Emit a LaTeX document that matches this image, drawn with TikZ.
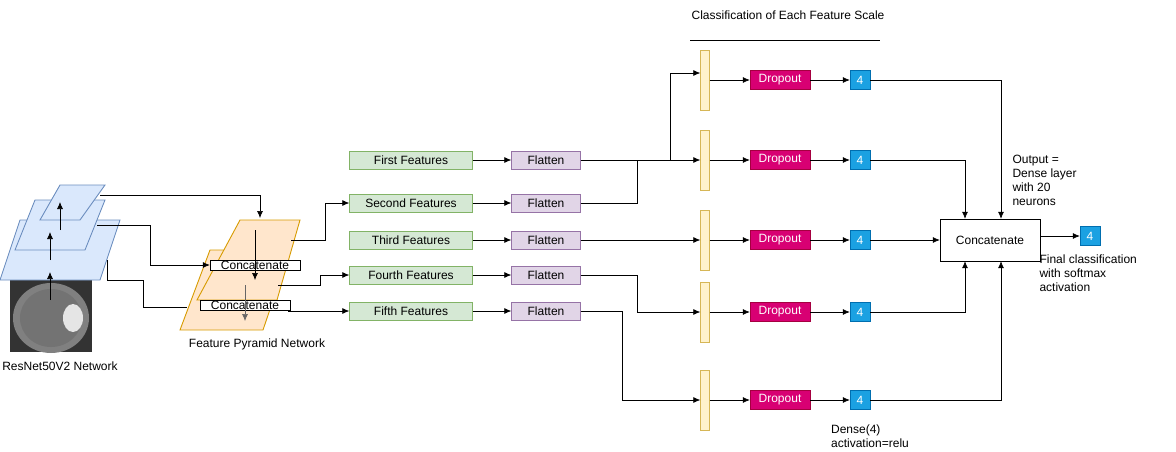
\documentclass[tikz,border=0pt]{standalone}
\usepackage{fontspec}
\setmainfont{Liberation Sans}
\usetikzlibrary{arrows.meta,positioning}
\definecolor{feat}{HTML}{D5E8D4}
\definecolor{featline}{HTML}{82B366}
\definecolor{flat}{HTML}{E1D5E7}
\definecolor{flatline}{HTML}{9673A6}
\definecolor{bar}{HTML}{FFF2CC}
\definecolor{barline}{HTML}{D6B656}
\definecolor{drop}{HTML}{D80073}
\definecolor{dropline}{HTML}{A50040}
\definecolor{dense}{HTML}{1BA1E2}
\definecolor{denseline}{HTML}{006EAF}
\definecolor{resfill}{HTML}{DAE8FC}
\definecolor{resline}{HTML}{6C8EBF}
\definecolor{fpnfill}{HTML}{FFE6CC}
\definecolor{fpnline}{HTML}{D79B00}
\begin{document}
\begin{tikzpicture}[x=1pt,y=-1pt,font=\fontsize{12}{14}\selectfont,
    arr/.style={-{Latex[length=7pt,width=6pt]}, line width=0.7pt},
    featbox/.style={draw=featline, fill=feat, minimum width=123pt, minimum height=18pt},
    flatbox/.style={draw=flatline, fill=flat, minimum width=69pt, minimum height=18pt},
    barbox/.style={draw=barline, fill=bar, minimum width=9pt, minimum height=60pt, inner sep=0pt},
    dropbox/.style={draw=dropline, fill=drop, text=white, minimum width=60pt, minimum height=19pt},
    densebox/.style={draw=denseline, fill=dense, text=white, minimum width=20pt, minimum height=19pt, inner sep=0pt},
    catbox/.style={draw, fill=white, inner sep=0pt, minimum height=10pt}]
    \useasboundingbox (0,0) rectangle (1176,451);

    % ResNet50V2 backbone
    \fill[black!80] (10,280) rectangle (92,352);
    \fill[gray] (51,318) ellipse (38pt and 35pt);
    \fill[black!55] (51,318) ellipse (31pt and 29pt);
    \fill[gray!20] (73,318) ellipse (10pt and 14pt);
    \draw[resline, fill=resfill, line width=0.9pt] (0,280) -- (100,280) -- (120,220) -- (20,220) -- cycle;
    \draw[resline, fill=resfill, line width=0.9pt] (15,250) -- (85,250) -- (105,200) -- (35,200) -- cycle;
    \draw[resline, fill=resfill, line width=0.9pt] (40,220) -- (80,220) -- (105,185) -- (60,185) -- cycle;
    \coordinate (r1) at (50,300); \coordinate (r1e) at (50,272);
    \coordinate (r2) at (50,260); \coordinate (r2e) at (50,232);
    \coordinate (r3) at (60,230); \coordinate (r3e) at (60,202);
    \draw[arr] (r1) -- (r1e);
    \draw[arr] (r2) -- (r2e);
    \draw[arr] (r3) -- (r3e);
    \node (resnet) at (60,366) {ResNet50V2 Network};

    % Feature pyramid
    \draw[fpnline, fill=fpnfill, line width=0.9pt] (180,330) -- (263,330) -- (290,250) -- (210,250) -- cycle;
    \draw[fpnline, fill=fpnfill, line width=0.9pt] (197,300) -- (277,300) -- (300,220) -- (240,220) -- cycle;
    \node (fpn) at (257,344) {Feature Pyramid Network};
    \node[catbox, minimum width=90pt] (cat1) at (255,265) {Concatenate};
    \node[catbox, minimum width=90pt] (cat2) at (245,305) {Concatenate};
    \coordinate (p1) at (255,230); \coordinate (p1e) at (255,280);
    \coordinate (p2) at (245,285); \coordinate (p2e) at (245,321);
    \draw[arr] (p1) -- (p1e);
    \draw[arr, black!60] (p2) -- (p2e);
    \coordinate (s3) at (100,195); \coordinate (top) at (260,218);
    \draw[arr] (s3) -| (top);
    \coordinate (s2) at (97,225); \coordinate (k2) at (150,225);
    \draw[arr] (s2) -- (k2) |- (cat1.west);
    \coordinate (s1) at (107,260); \coordinate (k1) at (143,307); \coordinate (k1e) at (187,307);
    \draw[line width=0.7pt] (s1) |- (107,280) -| (k1) -- (k1e);

    % Feature branches
    \node[featbox] (f1) at (411,160) {First Features};
    \node[featbox] (f2) at (411,203) {Second Features};
    \node[featbox] (f3) at (411,240) {Third Features};
    \node[featbox] (f4) at (411,275) {Fourth Features};
    \node[featbox] (f5) at (411,311) {Fifth Features};
    \coordinate (o2) at (291,240); \coordinate (o4) at (278,285); \coordinate (o5) at (288,311);
    \draw[arr] (o2) -- (325,240) |- (f2.west);
    \draw[arr] (o4) -- (320,285) |- (f4.west);
    \draw[arr] (o5) -- (f5.west);

    \foreach \i/\y in {1/160,2/203,3/240,4/275,5/311} {
        \node[flatbox] (fl\i) at (546,\y) {Flatten};
        \draw[arr] (f\i) -- (fl\i);
    }

    % Classification heads
    \node (head) at (788,15) {Classification of Each Feature Scale};
    \coordinate (hl) at (690,40); \coordinate (hr) at (880,40);
    \draw (hl) -- (hr);
    \foreach \i/\y in {1/80,2/160,3/240,4/312,5/400} {
        \node[barbox] (b\i) at (705,\y) {};
        \node[dropbox] (d\i) at (780,\y) {Dropout};
        \node[densebox] (n\i) at (860,\y) {4};
        \draw[arr] (b\i) -- (d\i);
        \draw[arr] (d\i) -- (n\i);
    }
    \draw[arr] (fl1.east) -- (670,160) |- ([yshift=7pt]b1.west);
    \draw[arr] (fl2.east) -- (637,203) |- (b2.west);
    \draw[arr] (fl3.east) -- (b3.west);
    \draw[arr] (fl4.east) -- (637,275) |- (b4.west);
    \draw[arr] (fl5.east) -- (622,311) |- (b5.west);
    \node[align=left] (relu) at (870,436) {Dense(4)\\activation=relu};

    % Final stage
    \node[draw, fill=white, minimum width=100pt, minimum height=42pt] (cat) at (990,240) {Concatenate};
    \draw[arr] (n1.east) -| ([xshift=11pt]cat.north);
    \draw[arr] (n2.east) -| ([xshift=-25pt]cat.north);
    \draw[arr] (n3) -- (cat);
    \draw[arr] (n4.east) -| ([xshift=-25pt]cat.south);
    \draw[arr] (n5.east) -| ([xshift=11pt]cat.south);
    \node[densebox] (out) at (1090,236) {4};
    \draw[arr] ([yshift=4pt]cat.east) -- (out);
    \node[align=left, anchor=north west] (outtxt) at (1009,152) {Output =\\Dense layer\\with 20\\neurons};
    \node[align=left, anchor=north west] (fintxt) at (1036,251) {Final classification\\with softmax\\activation};
\end{tikzpicture}
\end{document}
